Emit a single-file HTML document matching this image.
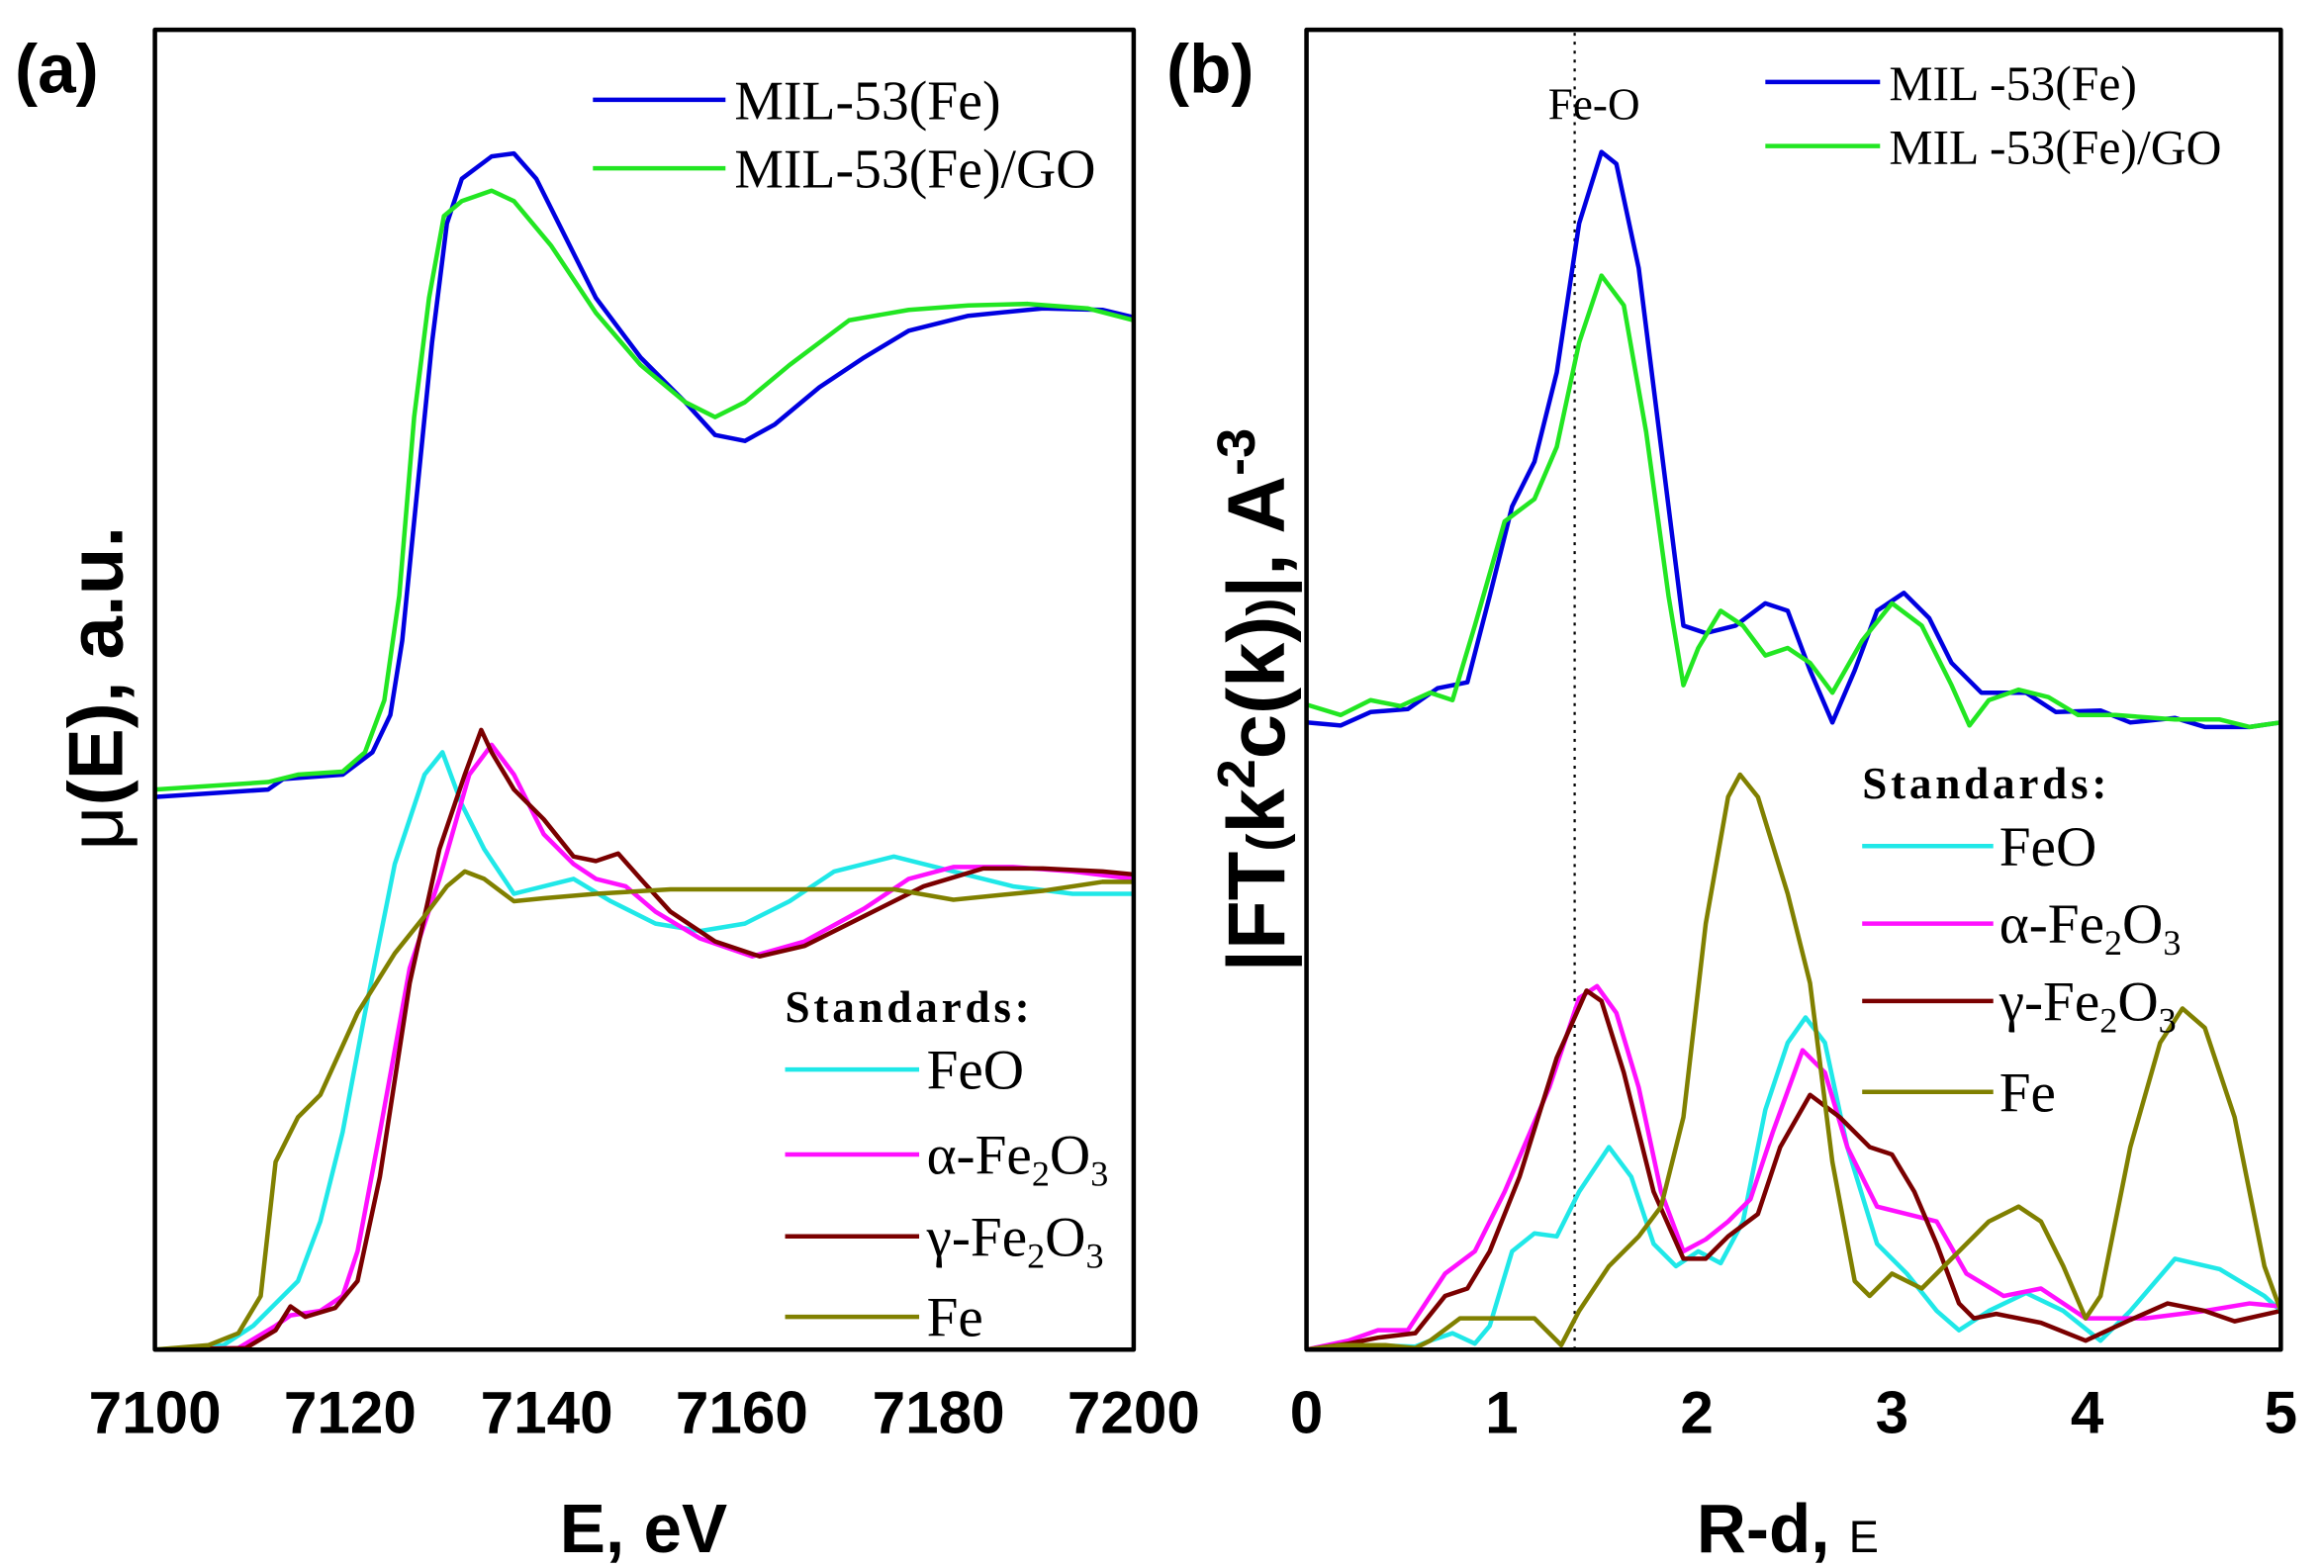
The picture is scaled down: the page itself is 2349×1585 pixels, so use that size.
<!DOCTYPE html>
<html><head><meta charset="utf-8"><style>html,body{margin:0;padding:0;background:#fff}svg{display:block}</style></head><body>
<svg width="2349" height="1585" viewBox="0 0 1560 1052.6" xmlns="http://www.w3.org/2000/svg">
<g fill="none" stroke-width="3" stroke-linejoin="round">
<polyline stroke="#0000e0" points="104,535 180,530 190,523 230,520 250,505 262,480 270,430 280,330 290,230 300,150 310,120 330,105 345,103 360,120 380,160 400,200 430,240 460,270 480,292 500,296 520,285 550,260 580,240 610,222 650,212 700,207 740,208 761,213"/>
<polyline stroke="#22e622" points="104,530 180,525 200,520 230,518 245,505 258,470 268,400 278,280 288,200 298,145 310,135 330,128 345,135 370,165 400,210 430,245 460,270 480,280 500,270 530,245 570,215 610,208 650,205 690,204 730,207 761,215"/>
<polyline stroke="#20e8e8" points="104,906 150,903 170,890 185,875 200,860 215,820 230,760 245,680 265,580 285,520 297,505 310,540 325,570 345,600 365,595 385,590 410,605 440,620 470,625 500,620 530,605 560,585 600,575 640,585 680,595 720,600 761,600"/>
<polyline stroke="#ff10ff" points="104,906 160,905 185,890 195,883 215,880 230,870 240,840 255,760 275,650 295,590 315,520 330,500 345,520 365,560 385,580 400,590 420,595 440,612 470,630 505,642 540,632 580,610 610,590 640,582 680,582 720,585 761,590"/>
<polyline stroke="#7a0000" points="104,906 165,905 185,893 195,877 205,884 225,878 240,860 255,790 275,660 295,570 312,520 323,490 330,505 345,530 365,550 385,575 400,578 415,573 430,590 450,612 480,632 510,642 540,635 580,615 620,595 660,583 700,583 740,585 761,587"/>
<polyline stroke="#808000" points="104,906 140,903 160,895 175,870 185,780 200,750 215,735 240,680 265,640 285,615 300,595 312,585 325,590 345,605 365,603 400,600 450,597 600,597 640,604 700,598 740,592 761,592"/>
<rect x="104" y="20" width="657" height="886" stroke="#000" stroke-width="3"/>
<line x1="1057" y1="22" x2="1057" y2="906" stroke="#000" stroke-width="1.5" stroke-dasharray="2,4"/>
<polyline stroke="#0000e0" points="877,485 900,487 920,478 945,476 965,462 985,458 1000,400 1015,340 1030,310 1045,250 1060,150 1075,102 1085,110 1100,180 1115,300 1130,420 1145,425 1165,420 1185,405 1200,410 1215,450 1230,485 1245,450 1260,410 1278,398 1295,415 1310,445 1330,465 1360,465 1380,478 1410,477 1430,485 1460,482 1480,488 1510,488 1531,485"/>
<polyline stroke="#22e622" points="877,473 900,480 920,470 940,474 960,465 975,470 990,420 1010,350 1030,335 1045,300 1060,230 1075,185 1090,205 1105,290 1120,400 1130,460 1140,435 1155,410 1170,420 1185,440 1200,435 1215,445 1230,465 1250,430 1270,405 1290,420 1310,460 1322,487 1335,470 1355,463 1375,468 1395,480 1420,480 1460,483 1490,483 1510,488 1531,485"/>
<polyline stroke="#20e8e8" points="877,906 920,903 950,904 960,900 975,895 990,902 1000,890 1015,840 1030,828 1045,830 1060,800 1080,770 1095,790 1110,835 1125,850 1140,840 1155,848 1170,820 1185,745 1200,700 1212,683 1225,700 1240,770 1260,835 1280,855 1300,880 1315,893 1335,880 1360,868 1385,880 1410,900 1430,880 1460,845 1490,852 1520,870 1531,880"/>
<polyline stroke="#ff10ff" points="877,906 905,900 925,893 945,893 970,855 990,840 1010,800 1040,730 1060,670 1072,662 1085,680 1100,730 1115,800 1130,840 1145,832 1160,820 1175,805 1190,760 1210,705 1225,720 1240,770 1260,810 1280,815 1300,820 1320,855 1345,870 1370,865 1400,885 1440,885 1480,880 1510,875 1531,877"/>
<polyline stroke="#7a0000" points="877,906 905,902 925,898 950,895 970,870 985,865 1000,840 1020,790 1045,710 1065,665 1075,672 1090,720 1110,800 1130,845 1145,845 1160,830 1180,815 1195,770 1215,735 1235,750 1255,770 1270,775 1285,800 1300,835 1315,875 1325,885 1340,882 1370,888 1400,900 1430,886 1455,875 1480,880 1500,887 1531,880"/>
<polyline stroke="#808000" points="877,906 900,903 930,903 950,905 960,900 980,885 1010,885 1030,885 1048,903 1060,880 1080,850 1100,830 1115,810 1130,750 1145,620 1160,535 1168,520 1180,535 1200,600 1215,660 1230,780 1245,860 1255,870 1270,855 1290,865 1310,845 1335,820 1355,810 1370,820 1385,850 1400,885 1410,870 1430,770 1450,700 1465,677 1480,690 1500,750 1520,850 1531,880"/>
<rect x="877" y="20" width="654" height="886" stroke="#000" stroke-width="3"/>
<line x1="398" y1="67" x2="487" y2="67" stroke="#0000e0"/>
<line x1="398" y1="113" x2="487" y2="113" stroke="#22e622"/>
<line x1="527" y1="718" x2="617" y2="718" stroke="#20e8e8"/>
<line x1="527" y1="775" x2="617" y2="775" stroke="#ff10ff"/>
<line x1="527" y1="830" x2="617" y2="830" stroke="#7a0000"/>
<line x1="527" y1="884" x2="617" y2="884" stroke="#808000"/>
<line x1="1185" y1="55" x2="1262" y2="55" stroke="#0000e0"/>
<line x1="1185" y1="98" x2="1262" y2="98" stroke="#22e622"/>
<line x1="1250" y1="568" x2="1338" y2="568" stroke="#20e8e8"/>
<line x1="1250" y1="620" x2="1338" y2="620" stroke="#ff10ff"/>
<line x1="1250" y1="672" x2="1338" y2="672" stroke="#7a0000"/>
<line x1="1250" y1="733" x2="1338" y2="733" stroke="#808000"/>
</g>
<g font-family="Liberation Serif, serif" fill="#000">
<text x="493" y="80" font-size="37">MIL-53(Fe)</text>
<text x="493" y="126" font-size="37">MIL-53(Fe)/GO</text>
<text x="527" y="686" font-size="30" font-weight="bold" letter-spacing="2.5">Standards:</text>
<text x="622" y="731" font-size="38">FeO</text>
<text x="622" y="788" font-size="38">α-Fe<tspan font-size="24" dy="8">2</tspan><tspan dy="-8">O</tspan><tspan font-size="24" dy="8">3</tspan></text>
<text x="622" y="843" font-size="38">γ-Fe<tspan font-size="24" dy="8">2</tspan><tspan dy="-8">O</tspan><tspan font-size="24" dy="8">3</tspan></text>
<text x="622" y="897" font-size="38">Fe</text>
<text x="1268" y="67" font-size="33">MIL -53(Fe)</text>
<text x="1268" y="110" font-size="33">MIL -53(Fe)/GO</text>
<text x="1250" y="536" font-size="30" font-weight="bold" letter-spacing="2.5">Standards:</text>
<text x="1342" y="581" font-size="38">FeO</text>
<text x="1342" y="633" font-size="38">α-Fe<tspan font-size="24" dy="8">2</tspan><tspan dy="-8">O</tspan><tspan font-size="24" dy="8">3</tspan></text>
<text x="1342" y="685" font-size="38">γ-Fe<tspan font-size="24" dy="8">2</tspan><tspan dy="-8">O</tspan><tspan font-size="24" dy="8">3</tspan></text>
<text x="1342" y="746" font-size="38">Fe</text>
<text x="1070" y="80" font-size="30" text-anchor="middle">Fe-O</text>
</g>
<g font-family="Liberation Sans, sans-serif" font-weight="bold" fill="#000">
<g font-size="40" text-anchor="middle">
<text x="104" y="962">7100</text><text x="235" y="962">7120</text><text x="367" y="962">7140</text><text x="498" y="962">7160</text><text x="630" y="962">7180</text><text x="761" y="962">7200</text>
<text x="877" y="962">0</text><text x="1008" y="962">1</text><text x="1139" y="962">2</text><text x="1270" y="962">3</text><text x="1401" y="962">4</text><text x="1531" y="962">5</text>
</g>
<text x="432" y="1042" font-size="46" text-anchor="middle">E, eV</text>
<text x="1200" y="1042" font-size="46" text-anchor="middle">R-d, <tspan font-weight="normal" font-size="30">Ε</tspan></text>
<text x="10" y="62" font-size="46">(a)</text>
<text x="783" y="62" font-size="46">(b)</text>
<text transform="translate(82,462) rotate(-90)" font-size="52" text-anchor="middle"><tspan font-weight="normal">μ</tspan>(E), a.u.</text>
<text transform="translate(862,470) rotate(-90)" font-size="54" text-anchor="middle">|FT<tspan font-size="36">(</tspan>k<tspan font-size="36" dy="-20">2</tspan><tspan dy="20">c(k)</tspan><tspan font-size="36">)</tspan>|, A<tspan font-size="36" dy="-20">-3</tspan></text>
</g>
</svg>
</body></html>
